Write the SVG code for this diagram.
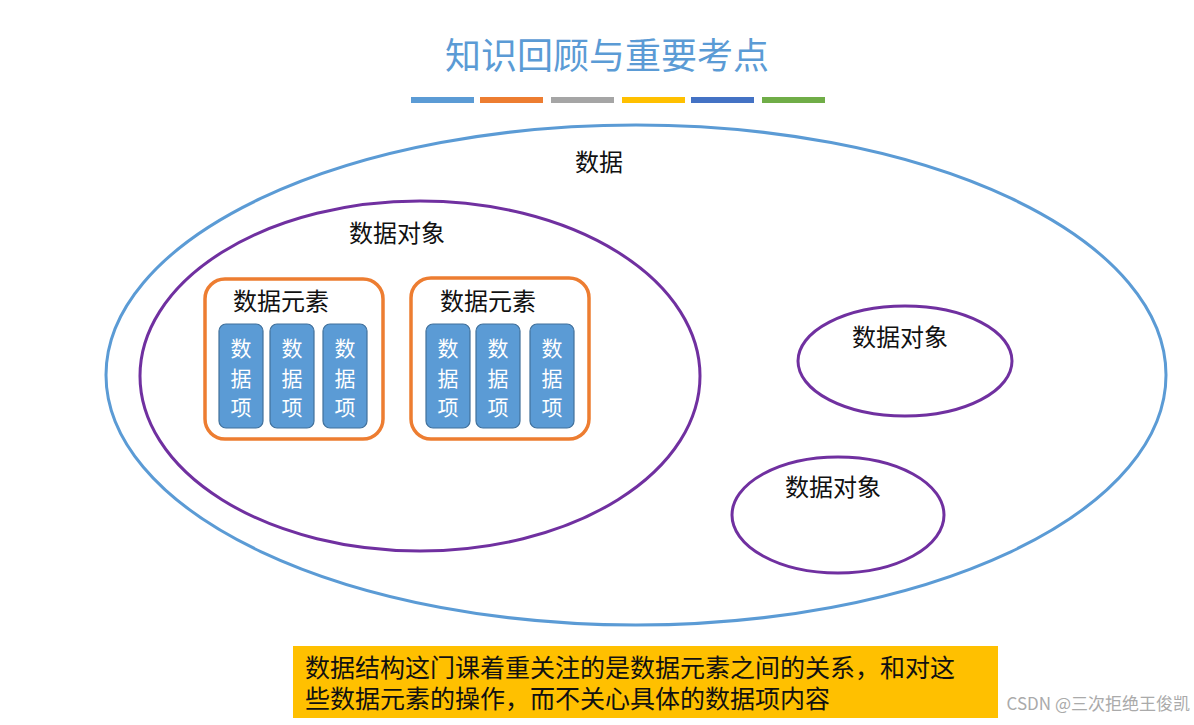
<svg xmlns="http://www.w3.org/2000/svg" width="1194" height="725" viewBox="0 0 1194 725">
<style>
text{font-family:"Noto Sans CJK SC","Noto Sans CJK JP",sans-serif}
.lbl{font-size:24px;fill:#111}
.obj{fill:none;stroke:#7030A0;stroke-width:3}
.el{fill:#fff;stroke:#ED7D31;stroke-width:3.5}
.it{fill:#5B9BD5;stroke:#41719C;stroke-width:1.2}
.itt{font-size:21px;fill:#fff;text-anchor:middle}
.nt{font-size:25px;fill:#111}
</style>
<rect width="1194" height="725" fill="#fff"/>
<text x="607" y="69" text-anchor="middle" font-size="36" fill="#5B9BD5">知识回顾与重要考点</text>
<g id="bars">
<rect x="411" y="97" width="63" height="6" fill="#5B9BD5"/>
<rect x="480" y="97" width="63" height="6" fill="#ED7D31"/>
<rect x="551" y="97" width="63" height="6" fill="#A5A5A5"/>
<rect x="622" y="97" width="63" height="6" fill="#FFC000"/>
<rect x="691" y="97" width="63" height="6" fill="#4472C4"/>
<rect x="762" y="97" width="63" height="6" fill="#70AD47"/>
</g>
<g id="data"><ellipse cx="636" cy="375" rx="530" ry="250" fill="none" stroke="#5B9BD5" stroke-width="3"/>
<text class="lbl" x="599" y="171" text-anchor="middle">数据</text></g>
<g id="obj1"><ellipse class="obj" cx="420" cy="376" rx="280" ry="175"/>
<text class="lbl" x="397" y="242" text-anchor="middle">数据对象</text></g>
<g id="obj2"><ellipse class="obj" cx="905" cy="361" rx="107" ry="55"/>
<text class="lbl" x="900" y="346" text-anchor="middle">数据对象</text></g>
<g id="obj3"><ellipse class="obj" cx="838" cy="515" rx="106" ry="58"/>
<text class="lbl" x="833" y="496" text-anchor="middle">数据对象</text></g>
<g id="el1"><rect class="el" x="205" y="279" width="178" height="160" rx="20"/>
<text class="lbl" x="281" y="310" text-anchor="middle">数据元素</text>
<rect class="it" x="219" y="324" width="44" height="104" rx="7"/>
<rect class="it" x="270" y="324" width="44" height="104" rx="7"/>
<rect class="it" x="323" y="324" width="44" height="104" rx="7"/>
<text class="itt" x="241" y="356">数</text><text class="itt" x="241" y="386">据</text><text class="itt" x="241" y="415">项</text>
<text class="itt" x="292" y="356">数</text><text class="itt" x="292" y="386">据</text><text class="itt" x="292" y="415">项</text>
<text class="itt" x="345" y="356">数</text><text class="itt" x="345" y="386">据</text><text class="itt" x="345" y="415">项</text>
</g>
<g id="el2"><rect class="el" x="411" y="278" width="178" height="161" rx="20"/>
<text class="lbl" x="488" y="310" text-anchor="middle">数据元素</text>
<rect class="it" x="426" y="324" width="44" height="104" rx="7"/>
<rect class="it" x="476" y="324" width="44" height="104" rx="7"/>
<rect class="it" x="530" y="324" width="44" height="104" rx="7"/>
<text class="itt" x="448" y="356">数</text><text class="itt" x="448" y="386">据</text><text class="itt" x="448" y="415">项</text>
<text class="itt" x="498" y="356">数</text><text class="itt" x="498" y="386">据</text><text class="itt" x="498" y="415">项</text>
<text class="itt" x="552" y="356">数</text><text class="itt" x="552" y="386">据</text><text class="itt" x="552" y="415">项</text>
</g>
<g id="note"><rect x="293" y="646" width="705" height="72" fill="#FFC000"/>
<text class="nt" x="305" y="677">数据结构这门课着重关注的是数据元素之间的关系，和对这</text>
<text class="nt" x="305" y="708">些数据元素的操作，而不关心具体的数据项内容</text></g>
<text x="1190" y="710" text-anchor="end" font-size="17" fill="#aaa">CSDN @三次拒绝王俊凯</text>
</svg>
